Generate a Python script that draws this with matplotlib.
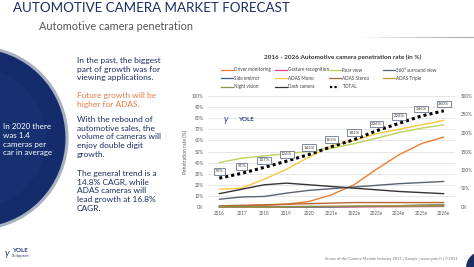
import numpy as np
import matplotlib.pyplot as plt
from matplotlib.patches import Circle
from matplotlib.lines import Line2D

plt.rcParams['font.family'] = ['Lato', 'DejaVu Sans']

years = ['2016', '2017', '2018', '2019', '2020', '2021e', '2022e', '2023e', '2024e', '2025e', '2026e']

# penetration rate in %, left axis
driver_monitoring = [0.5, 1, 1.5, 2.5, 5, 11, 20, 34, 47, 57, 63]
gesture_recognition = [0, 0, 0, 0, 0, 0, 0.1, 0.2, 0.3, 0.4, 0.5]
rear_view = [40, 44, 46, 48, 50, 53, 57, 62, 67, 71, 74]
surround_360 = [7, 9, 9.5, 12.5, 15, 16.5, 18, 19.5, 21, 22, 23]
side_emirror = [0, 0, 0, 0, 0, 0.2, 0.5, 0.8, 1.2, 1.6, 2]
adas_mono = [16, 17, 25, 34, 45, 55, 60, 66, 70, 74, 78]
adas_stereo = [1, 1.5, 2, 2.5, 3, 3.5, 4, 4, 4, 4, 4]
adas_triple = [0, 0, 0, 0.2, 0.4, 0.6, 0.8, 1, 1.2, 1.4, 1.6]
night_vision = [0.3, 0.3, 0.4, 0.4, 0.5, 0.5, 0.6, 0.6, 0.7, 0.7, 0.8]
dash_camera = [12, 16, 20, 21.5, 20, 18.5, 17, 15.5, 14, 13, 12]
# total, right axis
total = [78, 91, 107, 124, 142, 163, 182, 206, 226, 246, 260]

series = [
    ('Driver monitoring', driver_monitoring, '#ed7d31'),
    ('Gesture recognition', gesture_recognition, '#e0408f'),
    ('Rear view', rear_view, '#bcd35f'),
    ('360° surround view', surround_360, '#5a6272'),
    ('Side emirror', side_emirror, '#2f5f8f'),
    ('ADAS Mono', adas_mono, '#f5c842'),
    ('ADAS Stereo', adas_stereo, '#b8652e'),
    ('ADAS Triple', adas_triple, '#c29a36'),
    ('Night vision', night_vision, '#8d8f4c'),
    ('Dash camera', dash_camera, '#333333'),
]

navy = '#1b2d63'
W, H = 474, 267
fig = plt.figure(figsize=(W / 100, H / 100), dpi=100)

# background layer in pixel coordinates
bg = fig.add_axes([0, 0, 1, 1])
bg.set_xlim(0, W)
bg.set_ylim(H, 0)
bg.axis('off')

bg.text(13, 8, 'AUTOMOTIVE CAMERA MARKET FORECAST', fontsize=9.6, color=navy, va='center')
bg.text(39, 26, 'Automotive camera penetration', fontsize=7.8, color='#555555', va='center')
xs = np.linspace(360, W, 40)
for i in range(len(xs) - 1):
    bg.plot(xs[i:i + 2], [37, 37], color='#a8a8a8', lw=0.8, alpha=i / len(xs))

bg.add_patch(Circle((-24, 138), 91, fc='#142c6b', ec='#a9b0bf', lw=2.2))
bg.add_patch(Circle((-24, 138), 70, fc='#183477', ec='none', alpha=0.6))
bg.add_patch(Circle((483, 268), 17, fc=navy, ec='none'))

left_txt = 'In 2020 there\nwas 1.4\ncameras per\ncar in average'
bg.text(3, 123, left_txt, fontsize=5.8, color='white', va='top', linespacing=1.3)

body = [
    ('In the past, the biggest\npart of growth was for\nviewing applications.', 57, '#1b2d63'),
    ('Future growth will be\nhigher for ADAS.', 92, '#e07b45'),
    ('With the rebound of\nautomotive sales, the\nvolume of cameras will\nenjoy double digit\ngrowth.', 116, '#1b2d63'),
    ('The general trend is a\n14.8% CAGR, while\nADAS cameras will\nlead growth at 16.8%\nCAGR.', 170, '#1b2d63'),
]
for txt, y, c in body:
    bg.text(77, y, txt, fontsize=6.0, color=c, va='top', linespacing=1.27)

# logos
bg.text(5, 253, 'y', fontsize=7, color='#2a3f7a', style='italic', va='center')
bg.text(12, 251, 'YOLE', fontsize=4.5, color='#2a3f7a', fontweight='bold', va='center')
bg.text(12, 256, 'Développement', fontsize=1.8, color='#2a3f7a', va='center')

bg.text(458, 259, 'Status of the Camera Module Industry 2021 | Sample | www.yole.fr | ©2021',
        fontsize=2.9, color='#777777', ha='right', va='center')

# chart title and legend
bg.text(343, 57, '2016 - 2026 Automotive camera penetration rate (in %)', fontsize=4.6,
        fontweight='bold', color='#333333', ha='center', va='center')
entries = [(n, c, '-') for n, _, c in series] + [('TOTAL', 'black', ':')]
for i, (name, c, ls) in enumerate(entries):
    x0 = 221 + (i % 4) * 54
    y0 = 70 + (i // 4) * 8.3
    if ls == ':':
        bg.add_line(Line2D([x0 + 1, x0 + 10], [y0, y0], color=c, lw=1.6, ls=(0, (1, 1))))
    else:
        bg.add_line(Line2D([x0, x0 + 12], [y0, y0], color=c, lw=0.9))
    bg.text(x0 + 13.5, y0, name, fontsize=3.3, color='#404040', va='center')

# chart
ax = fig.add_axes([208 / W, 1 - 207 / H, 247 / W, 111 / H])
ax.set_zorder(2)
ax.patch.set_alpha(0)
x = np.arange(len(years))
for name, vals, c in series:
    ax.plot(x, vals, color=c, lw=1.0, clip_on=False, solid_capstyle='round')
ax.set_xlim(-0.5, len(years) - 0.5)
ax.set_ylim(0, 100)
ax.set_yticks(np.arange(0, 101, 10))
ax.set_yticklabels([f'{v}%' for v in range(0, 101, 10)])
ax.set_xticks(x)
ax.set_xticklabels(years)
ax.grid(axis='y', color='#dcdcdc', lw=0.5)
ax.set_axisbelow(True)
ax.tick_params(length=0, labelsize=3.3, labelcolor='#595959', pad=3)
for s in ax.spines.values():
    s.set_visible(False)
ax.set_ylabel('Penetration rate (%)', fontsize=3.6, color='#595959', labelpad=3)

ax2 = ax.twinx()
ax2.plot(x, total, color='black', lw=2.2, ls=(0, (1, 1)), dash_capstyle='butt', clip_on=False)
for xi, v in zip(x, total):
    ax2.annotate(f'{v}%', (xi, v), xytext=(0, 5), textcoords='offset points', ha='center',
                 va='center', fontsize=3.2, color='#404040',
                 bbox=dict(boxstyle='square,pad=0.3', fc='white', ec='#4a5a78', lw=0.5))
ax2.set_ylim(0, 300)
ax2.set_yticks(np.arange(0, 301, 50))
ax2.set_yticklabels([f'{v}%' for v in range(0, 301, 50)])
ax2.tick_params(length=0, labelsize=3.3, labelcolor='#595959', pad=4)
for s in ax2.spines.values():
    s.set_visible(False)

# chart logo
ax.text(0.2, 79, 'y', fontsize=6.5, color='#2a3f7a', style='italic', va='center')
ax.text(0.85, 79, 'YOLE', fontsize=4.5, color='#2a3f7a', fontweight='bold', va='center')

fig.savefig('out.png', dpi=100)
